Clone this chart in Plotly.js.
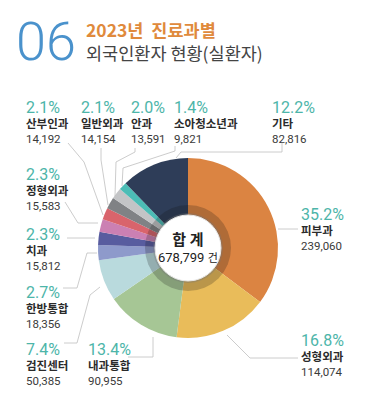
<!DOCTYPE html>
<html><head><meta charset="utf-8">
<script src="https://cdn.plot.ly/plotly-3.0.1.min.js"></script>
<style>html,body{margin:0;padding:0;background:#fff;}#chart{width:372px;height:414px;}</style>
</head><body><div id="chart"></div>
<script>
const categories = ['피부과','성형외과','내과통합','검진센터','한방통합','치과','정형외과','산부인과','일반외과','안과','소아청소년과','기타'];
const counts = [239060,114074,90955,50385,18356,15812,15583,14192,14154,13591,9821,82816];
const percents = ['35.2%','16.8%','13.4%','7.4%','2.7%','2.3%','2.3%','2.1%','2.1%','2.0%','1.4%','12.2%'];
const countLabels = ['239,060','114,074','90,955','50,385','18,356','15,812','15,583','14,192','14,154','13,591','9,821','82,816'];
const totalLabel = '678,799';
const colors = ['#DB8442','#E9BC5A','#A6C695','#B9DADD','#8E9ACB','#585C9F','#CB80B3','#D9646C','#808285','#C3C4C6','#4CBDB6','#2E3D58'];

const W = 372, H = 414;
const px = x => x / W, py = y => 1 - y / H;
const cx = 188, cy = 248, R = 90;

// label block positions (pixel): left x, top y of block
const labelPos = [
  [300,204],[300,330],[87,339],[25,339],[25,282],[25,224],[25,164],[25,97],[80,97],[130,97],[173,97],[271,97]
];

const annotations = [];
categories.forEach((c,i)=>{
  const [x,y] = labelPos[i];
  annotations.push({xref:'paper',yref:'paper',x:px(x),y:py(y),xanchor:'left',yanchor:'top',align:'left',showarrow:false,
    borderpad:0,
    text:'<span style="font-size:16px;color:#4DB5A9">'+percents[i]+'</span><br>'+
         '<span style="font-weight:bold;color:#2b2b2b">'+c+'</span><br>'+
         '<span style="color:#3a3a3a">'+countLabels[i]+'</span>',
    font:{family:'Roboto, "Noto Sans CJK KR"',size:11.5,color:'#2b2b2b'}});
});
// titles
annotations.push({xref:'paper',yref:'paper',x:px(14),y:py(41),xanchor:'left',yanchor:'middle',showarrow:false,
  text:'06',font:{family:'Roboto',size:54,color:'#4A92CC',weight:300}});
annotations.push({xref:'paper',yref:'paper',x:px(85),y:py(41),xanchor:'left',yanchor:'middle',align:'left',showarrow:false,
  borderpad:0,
  text:'<span style="font-weight:bold;color:#E08A3C">2023년  진료과별</span><br>외국인환자 현황(실환자)',
  font:{family:'"Noto Sans CJK KR"',size:17.5,color:'#444444'}});
// center
annotations.push({xref:'paper',yref:'paper',x:px(cx),y:py(cy),xanchor:'center',yanchor:'middle',showarrow:false,
  text:'<span style="font-size:15px;font-weight:bold">합 계</span><br>'+totalLabel+' <span style="font-size:11px">건</span>',
  font:{family:'Roboto, "Noto Sans CJK KR"',size:13,color:'#222'}});

// leader lines (pixel paths)
const leaders = [
  [[278,229],[298,229]],
  [[227,335],[250,358],[298,358]],
  [[128,357],[153,357],[153,337]],
  [[64,343],[77,343],[90,295],[100,287]],
  [[63,288],[77,288],[87,253],[97,253]],
  [[67,238],[95,238]],
  [[65,202],[78,223],[98,223]],
  [[68,143],[84,162],[103,215]],
  [[101,148],[101,160],[108,205]],
  [[135,148],[135,152],[116,162],[115,196]],
  [[175,146],[175,151],[123,168],[122,186]],
  [[282,143],[282,152],[181,152],[176,158]]
];
const shapes = leaders.map(pts=>({type:'path',xref:'paper',yref:'paper',
  path:pts.map((p,i)=>(i?'L':'M')+px(p[0])+','+py(p[1])).join(' '),
  line:{color:'#BFBFBF',width:0.8}}));
// dark ring and white center
shapes.push({type:'circle',xref:'paper',yref:'paper',xsizemode:'pixel',ysizemode:'pixel',xanchor:px(cx),yanchor:py(cy),
  x0:-43,x1:43,y0:-43,y1:43,fillcolor:'rgba(20,20,20,0.22)',line:{width:0},layer:'above'});
shapes.push({type:'circle',xref:'paper',yref:'paper',xsizemode:'pixel',ysizemode:'pixel',xanchor:px(cx),yanchor:py(cy),
  x0:-35,x1:35,y0:-35,y1:35,fillcolor:'rgba(120,120,120,0.35)',line:{width:0},layer:'above'});
shapes.push({type:'circle',xref:'paper',yref:'paper',xsizemode:'pixel',ysizemode:'pixel',xanchor:px(cx),yanchor:py(cy),
  x0:-33,x1:33,y0:-33,y1:33,fillcolor:'#ffffff',line:{color:'#e6e6e6',width:1},layer:'above'});

const trace = {type:'pie',labels:categories,values:counts,sort:false,direction:'clockwise',rotation:0,
  marker:{colors:colors,line:{width:0}},textinfo:'none',hoverinfo:'label+value',
  domain:{x:[px(cx-R),px(cx+R)],y:[py(cy+R),py(cy-R)]},showlegend:false};

Plotly.newPlot('chart',[trace],{width:W,height:H,margin:{l:0,r:0,t:0,b:0},paper_bgcolor:'#fff',
  annotations:annotations,shapes:shapes,showlegend:false},{staticPlot:true});
</script></body></html>
